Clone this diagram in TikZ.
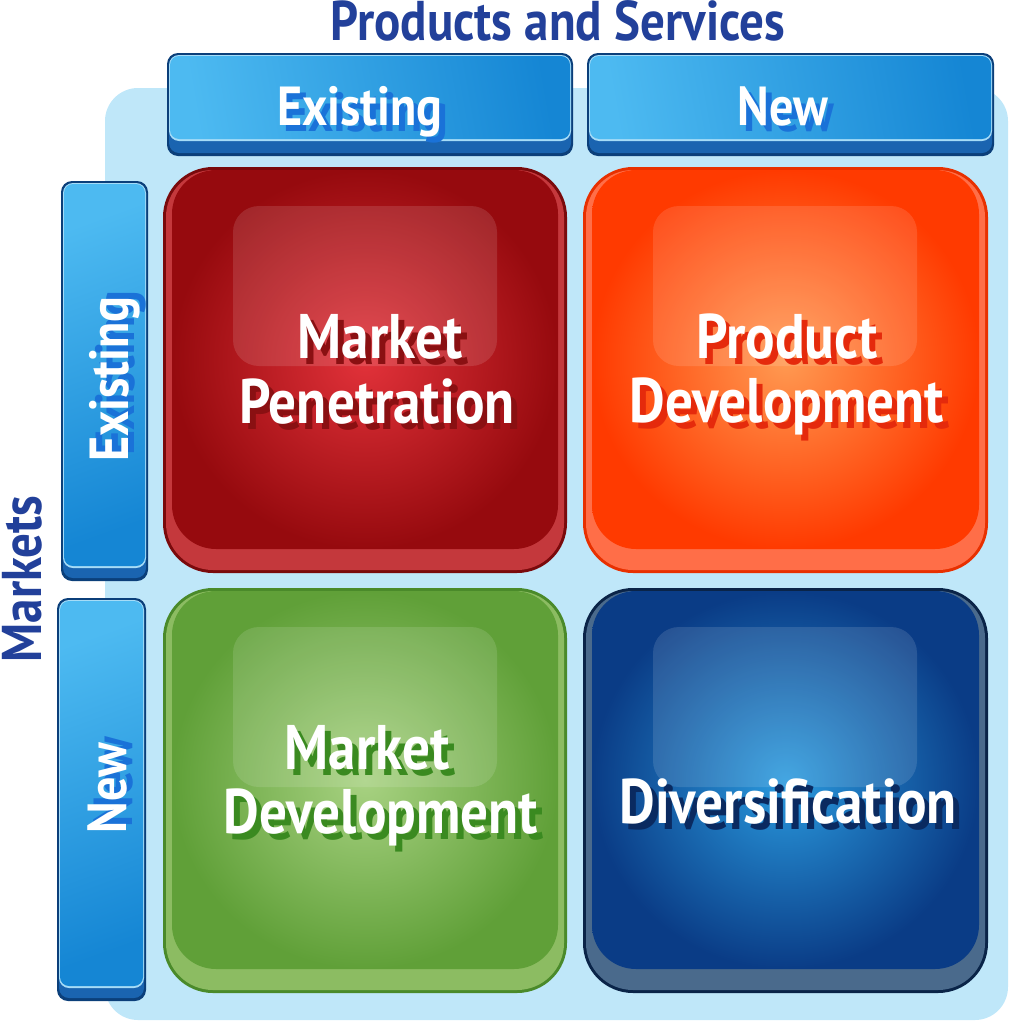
\documentclass[tikz,border=0pt]{standalone}
\usepackage{fontspec}
\newfontfamily\tf[FakeStretch=0.875]{PT Sans}
\definecolor{titleblue}{HTML}{22409A}
\definecolor{panel}{HTML}{BFE7F9}
\definecolor{btnedge}{HTML}{0B3F7A}
\definecolor{btnlip}{HTML}{1A64B0}
\definecolor{btnline}{HTML}{A6DCF7}
\definecolor{btnlight}{HTML}{4DBAF1}
\definecolor{btndark}{HTML}{1586D4}
\definecolor{btnshadow}{HTML}{1A72D8}
\definecolor{redB}{HTML}{7A0A0C}\definecolor{redL}{HTML}{C4383C}
\definecolor{redO}{HTML}{960A0E}\definecolor{redI}{HTML}{E2323A}\definecolor{redS}{HTML}{8A1012}
\definecolor{orB}{HTML}{E83000}\definecolor{orL}{HTML}{FF6E48}
\definecolor{orO}{HTML}{FF3A00}\definecolor{orI}{HTML}{FF9A52}\definecolor{orS}{HTML}{E52A0C}
\definecolor{grB}{HTML}{4A8A2A}\definecolor{grL}{HTML}{8CBC62}
\definecolor{grO}{HTML}{60A038}\definecolor{grI}{HTML}{A8D282}\definecolor{grS}{HTML}{3A8A20}
\definecolor{blB}{HTML}{0A2448}\definecolor{blL}{HTML}{4A6A8C}
\definecolor{blO}{HTML}{0A3C86}\definecolor{blI}{HTML}{2A9ADE}\definecolor{blS}{HTML}{0A2A60}
\newcommand\shtext[2]{\makebox[0pt][l]{\hspace{6pt}\raisebox{-6pt}{\textcolor{#1}{#2}}}#2}
% tile: x0 y0 x1 y1 border lip outer inner
\newcommand\tile[8]{%
  \fill[#5, rounded corners=50pt] (#1,#2) rectangle (#3,#4);
  \fill[#6, rounded corners=47pt] ({#1+3},{#2+3}) rectangle ({#3-3},{#4-3});
  \shade[rounded corners=44pt, inner color=#8, outer color=#7] ({#1+9},{#2+3}) rectangle ({#3-9},{#4-24});
  \fill[white, opacity=0.12, rounded corners=26pt] ({#1+70},{#2+39}) rectangle ({#1+334},{#2+199});
}
% button: x0 y0 x1 y1 facebottom angle
\newcommand\btn[6]{%
  \fill[btnedge, rounded corners=11pt] (#1,#2) rectangle (#3,#4);
  \fill[btnlip, rounded corners=10pt] ({#1+2},{#2+2}) rectangle ({#3-2},{#4-3});
  \fill[btnline, rounded corners=10pt] ({#1+2},{#2+2}) rectangle ({#3-2},{#5+2});
  \shade[rounded corners=9pt, left color=btnlight, right color=btndark, shading angle=#6] ({#1+3},{#2+3}) rectangle ({#3-3},{#5});
}
\tikzset{
  tiletext/.style={font=\tf\bfseries\fontsize{63}{65}\selectfont, text=white, anchor=base, inner sep=0pt},
  btntext/.style={font=\tf\bfseries\fontsize{55}{58}\selectfont, text=white, anchor=base, inner sep=0pt},
  headtext/.style={font=\tf\bfseries\fontsize{56}{58}\selectfont, text=titleblue, anchor=base, inner sep=0pt}
}
\begin{document}
\begin{tikzpicture}[x=1pt,y=-1pt]
\useasboundingbox (0,0) rectangle (1009,1023);
% panel
\fill[panel, rounded corners=33pt] (105,88) rectangle (1008,1020);
% buttons
\btn{167}{53}{573}{156}{139}{100}
\btn{587}{53}{994}{156}{139}{100}
\btn{61}{181}{148}{581}{566}{20}
\btn{57}{598}{146}{1001}{986}{20}
% tiles
\tile{163}{167}{567}{573}{redB}{redL}{redO}{redI}
\tile{583}{167}{988}{573}{orB}{orL}{orO}{orI}
\tile{163}{588}{567}{993}{grB}{grL}{grO}{grI}
\tile{583}{588}{988}{993}{blB}{blL}{blO}{blI}
% headings
\node[headtext] (title) at (558,40) {Products and Services};
\node[headtext, rotate=90] (markets) at (41,579) {Markets};
\node[btntext] (hexist) at (360,125) {\shtext{btnshadow}{Existing}};
\node[btntext] (hnew) at (783,125) {\shtext{btnshadow}{New}};
\node[btntext, rotate=90] (vexist) at (128,379) {\shtext{btnshadow}{Existing}};
\node[btntext, rotate=90] (vnew) at (126,788) {\shtext{btnshadow}{New}};
% tile labels
\node[tiletext] (mp1) at (380,358) {\shtext{redS}{Market}};
\node[tiletext] (mp2) at (377,423) {\shtext{redS}{Penetration}};
\node[tiletext] (pd1) at (787,358) {\shtext{orS}{Product}};
\node[tiletext] (pd2) at (787,422) {\shtext{orS}{Development}};
\node[tiletext] (md1) at (367,769) {\shtext{grS}{Market}};
\node[tiletext] (md2) at (381,833) {\shtext{grS}{Development}};
\node[tiletext] (dv) at (788,823) {\shtext{blS}{Diversification}};
\end{tikzpicture}
\end{document}
